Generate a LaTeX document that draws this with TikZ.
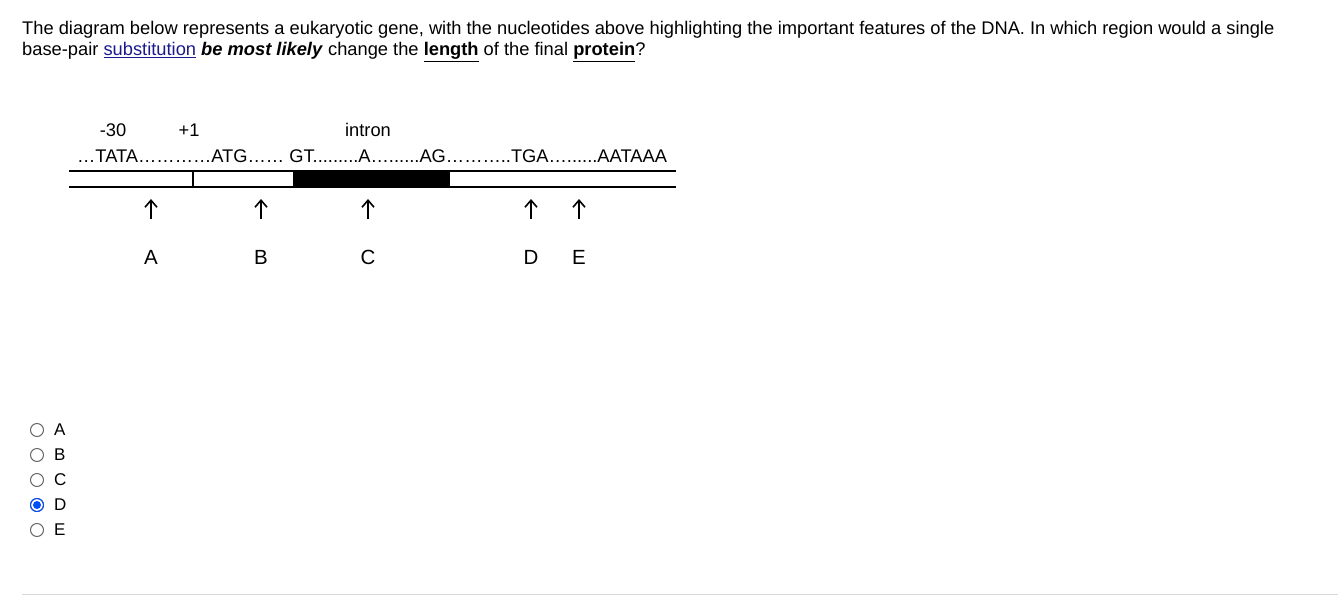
\documentclass[tikz,border=0pt]{standalone}
\usepackage{fontspec}
\setmainfont{Liberation Sans}
\usetikzlibrary{arrows.meta}
\begin{document}
\begin{tikzpicture}[x=1pt,y=-1pt,
  txt/.style={inner sep=0pt,font=\fontsize{18.3}{22}\selectfont},
  lbl/.style={inner sep=0pt,font=\fontsize{20.5}{24}\selectfont},
  arr/.style={-{Straight Barb[length=7pt,width=12pt,line width=1.6pt]},line width=1.8pt},
  radio/.style={circle,draw=gray!80!black,line width=1pt,minimum size=13pt,inner sep=0pt},
  opt/.style={inner sep=0pt,anchor=west,font=\fontsize{17}{20}\selectfont}]
\useasboundingbox (0,0) rectangle (1338,605);
\node[txt,anchor=west] (q1) at (22,30) {The diagram below represents a eukaryotic gene, with the nucleotides above highlighting the important features of the DNA. In which region would a single};
\node[txt,anchor=west] (q2) at (22,52) {base-pair \textcolor[HTML]{1a1a8c}{\underline{substitution}} \textbf{\textit{be most likely}} change the \textbf{\underline{length}} of the final \textbf{\underline{protein}}?};
\node[txt] (m30) at (113,130) {-30};
\node[txt] (p1) at (189,130) {+1};
\node[txt] (intr) at (368,130) {intron};
\node[txt] (seq) at (372,156) {…TATA…………ATG…… GT.........A…......AG………..TGA…......AATAAA};
\fill (293,171) rectangle (450,187);
\draw[line width=2.5pt] (69,171) -- (676,171);
\draw[line width=2.5pt] (69,187) -- (676,187);
\draw[line width=2pt] (193,171) -- (193,187);
\foreach \x/\n in {151/A,261/B,368/C,531/D,579/E}{
  \node[lbl] (l\n) at (\x,257) {\n};
  \coordinate (b\n) at (\x,219);
  \coordinate (t\n) at (\x,199);
  \draw[arr] (b\n) -- (t\n);
}
\foreach \y/\n in {430/A,455/B,480/C,505/D,530/E}{
  \node[radio] (r\n) at (37,\y) {};
  \node[opt] (o\n) at (54,\y) {\n};
}
\draw[draw=blue!70!cyan,line width=1pt] (rD) circle (6.5pt);
\fill[blue!70!cyan] (rD) circle (4pt);
\draw[gray!30,line width=1pt] (22,594) -- (1338,594);
\end{tikzpicture}
\end{document}
